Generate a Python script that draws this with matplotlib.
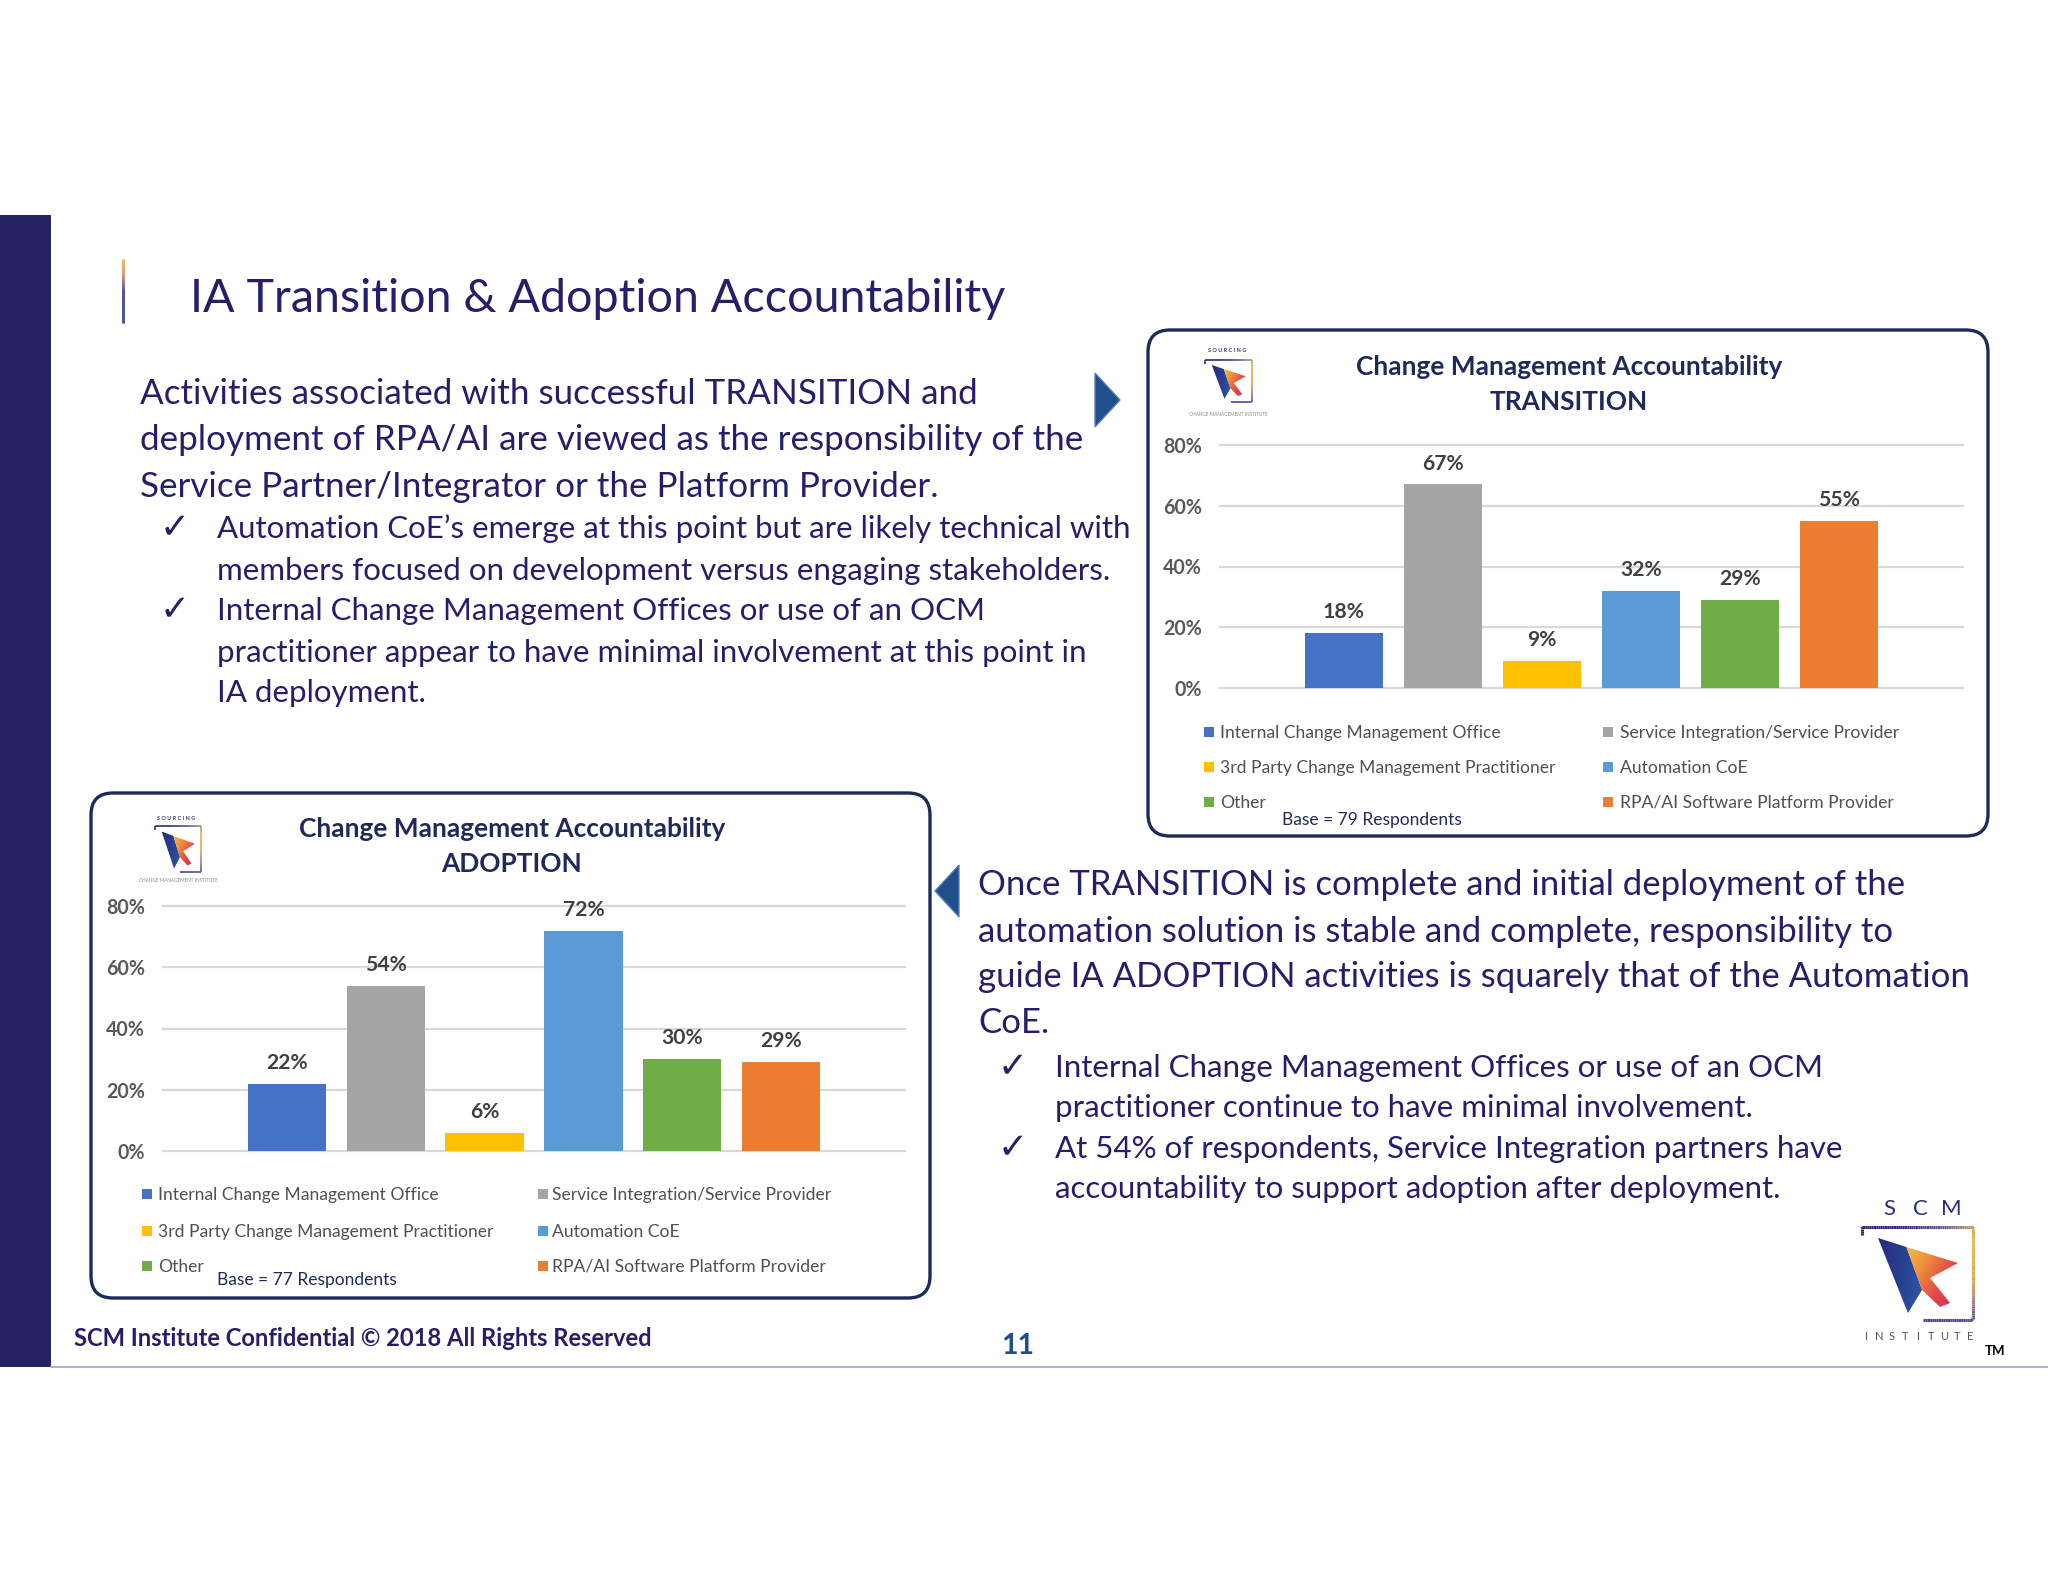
import matplotlib
matplotlib.use('Agg')
import matplotlib.pyplot as plt
import numpy as np
from matplotlib.patches import Polygon, FancyBboxPatch, Rectangle
from matplotlib.collections import LineCollection
from matplotlib.colors import LinearSegmentedColormap

# ---------------- data ----------------
categories = ["Internal Change Management Office",
              "Service Integration/Service Provider",
              "3rd Party Change Management Practitioner",
              "Automation CoE",
              "Other",
              "RPA/AI Software Platform Provider"]
transition_pct = [18, 67, 9, 32, 29, 55]
adoption_pct = [22, 54, 6, 72, 30, 29]
bar_colors = ['#4472C4', '#A5A5A5', '#FFC000', '#5B9BD5', '#70AD47', '#ED7D31']
y_ticks = [0, 20, 40, 60, 80]
y_tick_labels = ['0%', '20%', '40%', '60%', '80%']

slide_title = "IA Transition & Adoption Accountability"
para1 = ["Activities associated with successful TRANSITION and",
         "deployment of RPA/AI are viewed as the responsibility of the",
         "Service Partner/Integrator or the Platform Provider."]
bullets1 = [["Automation CoE\u2019s emerge at this point but are likely technical with",
             "members focused on development versus engaging stakeholders."],
            ["Internal Change Management Offices or use of an OCM",
             "practitioner appear to have minimal involvement at this point in",
             "IA deployment."]]
para2 = ["Once TRANSITION is complete and initial deployment of the",
         "automation solution is stable and complete, responsibility to",
         "guide IA ADOPTION activities is squarely that of the Automation",
         "CoE."]
bullets2 = [["Internal Change Management Offices or use of an OCM",
             "practitioner continue to have minimal involvement."],
            ["At 54% of respondents, Service Integration partners have",
             "accountability to support adoption after deployment."]]
footer_text = "SCM Institute Confidential \u00a9 2018 All Rights Reserved"
page_number = "11"

# ---------------- setup ----------------
W, H = 2048, 1582
NAVY = '#231f6b'
TITLE_NAVY = '#1f2a5a'
FONT = ['Lato', 'DejaVu Sans']

fig = plt.figure(figsize=(W / 100, H / 100), dpi=100)
fig.patch.set_facecolor('white')
ov = fig.add_axes([0, 0, 1, 1], zorder=0)
ov.set_xlim(0, W)
ov.set_ylim(H, 0)
ov.axis('off')
renderer = fig.canvas.get_renderer()


def fit_size(s, target_w, weight='normal', family=FONT, base=20):
    t = fig.text(0, 0, s, fontsize=base, fontweight=weight, family=family)
    w = t.get_window_extent(renderer).width
    t.remove()
    return base * target_w / w


def ptext(x, y, s, size, color=NAVY, weight='normal', ha='left', va='baseline', family=FONT, z=5):
    return ov.text(x, y, s, fontsize=size, color=color, fontweight=weight, ha=ha, va=va,
                   family=family, zorder=z)


def spaced(xc, y, s, width, size, color, weight='normal'):
    xs = np.linspace(xc - width / 2, xc + width / 2, len(s))
    for ch, x in zip(s, xs):
        ptext(x, y, ch, size, color=color, weight=weight, ha='center', va='center')


def grad_poly(pts, colors, direction=(1, 0), z=6):
    pts = np.array(pts)
    x0, y0 = pts.min(0)
    x1, y1 = pts.max(0)
    n = 64
    u = np.linspace(0, 1, n)
    U, V = np.meshgrid(u, u)
    t = direction[0] * U + direction[1] * V
    t = (t - t.min()) / (t.max() - t.min())
    cmap = LinearSegmentedColormap.from_list('g', colors)
    poly = Polygon(pts, closed=True, fc='none', ec='none', transform=ov.transData)
    ov.add_patch(poly)
    im = ov.imshow(cmap(t), extent=(x0, x1, y1, y0), origin='upper', aspect='auto',
                   zorder=z, interpolation='bilinear')
    im.set_clip_path(poly)


def grad_line(pts, colors, lw, z=6, n=120):
    pts = np.array(pts, dtype=float)
    seg_len = np.hypot(*np.diff(pts, axis=0).T)
    cum = np.concatenate([[0], np.cumsum(seg_len)])
    s = np.linspace(0, cum[-1], n)
    xs = np.interp(s, cum, pts[:, 0])
    ys = np.interp(s, cum, pts[:, 1])
    P = np.column_stack([xs, ys])
    segs = np.stack([P[:-1], P[1:]], axis=1)
    cmap = LinearSegmentedColormap.from_list('l', colors)
    lc = LineCollection(segs, colors=cmap(np.linspace(0, 1, n - 1)), linewidths=lw,
                        zorder=z, capstyle='butt')
    ov.add_collection(lc)


def draw_logo(bx, by, bw, bh, lw):
    rel = lambda p: (bx + p[0] * bw, by + p[1] * bh)
    TL, P, TIP = (0.144, 0.118), (0.40, 0.215), (0.865, 0.387)
    NOTCH, LR, LR2 = (0.613, 0.548), (0.793, 0.817), (0.703, 0.86)
    INNER, BOT = (0.541, 0.677), (0.414, 0.925)
    grad_poly([rel(p) for p in (TL, P, INNER, BOT)], ['#2a2a7c', '#27408f', '#2c58a8'], (1, 0.2))
    grad_poly([rel(p) for p in (P, TIP, NOTCH, LR, LR2, INNER)],
              ['#f3c245', '#ee8b3b', '#e0474a', '#c8305c'], (0.6, 0.4))
    frame = [rel((0, 0.09)), rel((0, 0)), rel((1, 0)), rel((1, 1)), rel((0.55, 1))]
    grad_line(frame, ['#2b2b7e', '#2b2b7e', '#6a5a9a', '#e6b444', '#d9a050', '#5b4aa0', '#4a3f96'], lw)


# ---------------- slide decoration ----------------
ov.add_patch(Rectangle((0, 215), 51, 1152, fc='#272363', ec='none', zorder=2))
ov.plot([51, W], [1367, 1367], color='#a8a8d0', lw=1.3, zorder=2)
grad_line([(123, 259), (123, 323)], ['#f2a43a', '#c07a50', NAVY, NAVY, NAVY], 2.2)

# title
ptext(190, 312, slide_title, fit_size(slide_title, 817), color=NAVY)

# left text block
s1 = fit_size(para1[1], 943)
for y, line in zip([404, 450, 497], para1):
    ptext(140, y, line, s1)
sb1 = fit_size(bullets1[0][0], 918)
yb = [[538, 580], [620, 662, 702]]
for lines, ys in zip(bullets1, yb):
    ptext(160, ys[0], '\u2713', sb1 * 1.15, family=['DejaVu Sans'])
    for y, line in zip(ys, lines):
        ptext(217, y, line, sb1)

# right text block
s2 = fit_size(para2[2], 993)
for y, line in zip([895, 942, 987, 1033], para2):
    ptext(978, y, line, s2)
sb2 = fit_size(bullets2[1][0], 789)
yb2 = [[1077, 1117], [1158, 1198]]
for lines, ys in zip(bullets2, yb2):
    ptext(998, ys[0], '\u2713', sb2 * 1.15, family=['DejaVu Sans'])
    for y, line in zip(ys, lines):
        ptext(1055, y, line, sb2)

# arrows
ov.add_patch(Polygon([(1095, 373), (1120, 400), (1095, 427)], closed=True,
                     fc='#1f4e8c', ec='#5a80b8', lw=1, zorder=4))
ov.add_patch(Polygon([(959, 865), (935, 891), (959, 917)], closed=True,
                     fc='#1f4e8c', ec='#5a80b8', lw=1, zorder=4))

# footer
ptext(74, 1339, footer_text, fit_size(footer_text, 580, weight='bold'), weight='bold', va='center')
ptext(1018, 1346, page_number, fit_size(page_number, 33, weight='bold'), color='#1f4e8c',
      weight='bold', ha='center', va='center')

# SCM logo
spaced(1920, 1209, "SCM", 62, 16, '#2b2b7e')
draw_logo(1862, 1227, 111, 93, 2.2)
spaced(1918, 1337, "INSTITUTE", 104, 8, '#555555')
ptext(1995, 1351, "TM", 9.5, color='black', weight='bold', ha='center', va='center')

# ---------------- charts ----------------
legend_size = fit_size(categories[2], 337)
chart_title_size = fit_size("Change Management Accountability", 425, weight='bold')
tick_size = fit_size("80%", 39, weight='bold')
label_size = fit_size("18%", 42, weight='bold')
base_size = fit_size("Base = 79 Respondents", 180)
sourcing_size = fit_size("S O U R C I N G", 38, weight='bold')


def draw_chart(values, box, axpx, title2, base_text, title_cx, title_ys,
               leg_marker_x, leg_text_x, leg_ys, base_xy, logo, sourcing_xy, tiny_xy):
    bx0, by0, bx1, by1 = box
    ov.add_patch(FancyBboxPatch((bx0 + 12, by0 + 12), bx1 - bx0 - 24, by1 - by0 - 24,
                                boxstyle='round,pad=12,rounding_size=22',
                                fc='white', ec='#1c2a5c', lw=2.4, zorder=3))
    l, t, r, b = axpx
    ax = fig.add_axes([l / W, 1 - b / H, (r - l) / W, (b - t) / H], zorder=2)
    ax.patch.set_visible(False)
    x = np.arange(len(values))
    for yv in y_ticks:
        ax.axhline(yv, color='#d9d9d9', lw=1.6, zorder=0, clip_on=False)
    ax.bar(x, values, width=0.79, color=bar_colors, zorder=2)
    ax.set_xlim(-1.25, 6.25)
    ax.set_ylim(0, 80)
    ax.set_xticks([])
    ax.set_yticks(y_ticks)
    ax.set_yticklabels(y_tick_labels, fontsize=tick_size, color='#595959',
                       fontweight='bold', family=FONT)
    ax.tick_params(axis='y', length=0, pad=13)
    for sp in ax.spines.values():
        sp.set_visible(False)
    for xi, v in zip(x, values):
        ax.annotate(f'{v}%', (xi, v), xytext=(0, 15), textcoords='offset points',
                    ha='center', va='center', fontsize=label_size, fontweight='bold',
                    color='#404040', family=FONT)
    # titles
    ptext(title_cx, title_ys[0], "Change Management Accountability", chart_title_size,
          color=TITLE_NAVY, weight='bold', ha='center')
    ptext(title_cx, title_ys[1], title2, chart_title_size, color=TITLE_NAVY,
          weight='bold', ha='center')
    # legend
    for i, (cat, col) in enumerate(zip(categories, bar_colors)):
        row, c = divmod(i, 2)
        y = leg_ys[row]
        ov.add_patch(Rectangle((leg_marker_x[c], y - 11), 10, 10, fc=col, ec='none', zorder=5))
        ptext(leg_text_x[c], y, cat, legend_size, color='#505050')
    ptext(base_xy[0], base_xy[1], base_text, base_size, color=TITLE_NAVY)
    # logo
    ptext(sourcing_xy[0], sourcing_xy[1], "S O U R C I N G", sourcing_size, color='#3a3a80',
          weight='bold', ha='center', va='center')
    draw_logo(*logo, 1.2)
    ptext(tiny_xy[0], tiny_xy[1], "CHANGE MANAGEMENT INSTITUTE", 3.4, color='#8a8a8a',
          ha='center', va='center')


draw_chart(transition_pct, (1148, 330, 1988, 836), (1220, 445, 1963, 688), "TRANSITION",
           "Base = 79 Respondents", 1569, (375, 410), (1204, 1603), (1220, 1620),
           (738, 773, 808), (1282, 825), (1205, 360, 47, 42), (1227, 351), (1228, 415))

draw_chart(adoption_pct, (91, 793, 930, 1298), (163, 906, 905, 1151), "ADOPTION",
           "Base = 77 Respondents", 512, (837, 872), (142, 538), (158, 552),
           (1200, 1237, 1272), (217, 1285), (155, 826, 46, 46), (176, 818), (178, 881))

ov.set_xlim(0, W)
ov.set_ylim(H, 0)
fig.savefig('out.png', dpi=100, facecolor='white')
